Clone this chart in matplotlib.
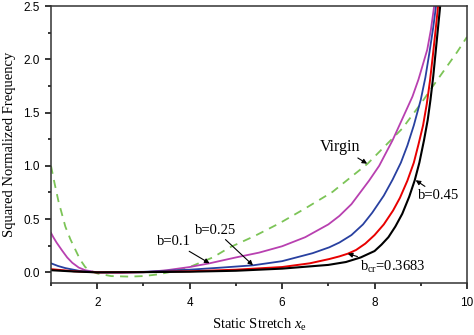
import matplotlib
matplotlib.use("Agg")
import matplotlib.pyplot as plt
from matplotlib.ticker import MultipleLocator

plt.rcParams['mathtext.fontset'] = 'custom'
plt.rcParams['mathtext.rm'] = 'Liberation Serif'
plt.rcParams['mathtext.it'] = 'Liberation Serif:italic'

# ---- data ----
virgin_x = [1.0, 1.08, 1.16, 1.31, 1.42, 1.53, 1.63, 1.74, 1.85, 2.0, 2.3, 2.7, 3.0, 3.3, 3.6, 4.0, 4.5, 4.87, 5.4, 5.94, 6.5, 7.09, 7.85, 8.6, 9.03, 9.25, 9.79, 10.0]
virgin_y = [1.0, 0.83, 0.67, 0.43, 0.31, 0.21, 0.12, 0.05, 0.015, -0.01, -0.035, -0.04, -0.035, -0.02, 0.005, 0.05, 0.14, 0.235, 0.34, 0.46, 0.60, 0.755, 1.02, 1.35, 1.60, 1.74, 2.07, 2.21]

b01_x = [1.0, 1.05, 1.12, 1.24, 1.35, 1.46, 1.6, 1.74, 2.0, 2.5, 3.0, 3.5, 4.0, 4.43, 5.0, 5.5, 6.0, 6.5, 7.0, 7.24, 7.5, 7.88, 8.1, 8.39, 8.6, 8.82, 8.95, 9.14, 9.22, 9.29]
b01_y = [0.37, 0.33, 0.28, 0.205, 0.14, 0.09, 0.045, 0.02, 0.0, -0.005, 0.0, 0.02, 0.05, 0.085, 0.14, 0.185, 0.245, 0.33, 0.45, 0.53, 0.64, 0.86, 1.0, 1.24, 1.44, 1.65, 1.81, 2.09, 2.28, 2.5]

b025_x = [1.0, 1.15, 1.31, 1.6, 2.0, 3.0, 4.0, 4.7, 5.37, 6.0, 6.66, 7.02, 7.24, 7.5, 7.75, 7.95, 8.2, 8.39, 8.57, 8.71, 8.85, 9.0, 9.1, 9.19, 9.27, 9.33]
b025_y = [0.085, 0.06, 0.04, 0.015, 0.0, 0.005, 0.025, 0.045, 0.066, 0.105, 0.18, 0.235, 0.28, 0.35, 0.45, 0.56, 0.72, 0.87, 1.03, 1.19, 1.38, 1.62, 1.83, 2.07, 2.3, 2.5]

bcr_x = [1.0, 1.5, 2.0, 3.0, 4.0, 5.0, 6.0, 6.6, 7.02, 7.24, 7.42, 7.6, 7.8, 8.0, 8.2, 8.4, 8.55, 8.71, 8.85, 8.95, 9.05, 9.13, 9.2, 9.26, 9.32, 9.375]
bcr_y = [0.03, 0.01, 0.0, 0.003, 0.01, 0.025, 0.05, 0.085, 0.125, 0.15, 0.175, 0.21, 0.27, 0.35, 0.45, 0.58, 0.7, 0.86, 1.03, 1.2, 1.38, 1.58, 1.8, 2.03, 2.27, 2.5]

b045_x = [1.0, 1.5, 2.0, 3.0, 4.0, 5.0, 6.0, 7.0, 7.38, 7.7, 8.0, 8.15, 8.3, 8.45, 8.6, 8.75, 8.87, 8.97, 9.07, 9.15, 9.21, 9.27, 9.32, 9.37, 9.42]
b045_y = [0.02, 0.008, 0.0, 0.002, 0.006, 0.015, 0.035, 0.07, 0.097, 0.14, 0.2, 0.26, 0.33, 0.43, 0.55, 0.71, 0.865, 1.03, 1.24, 1.43, 1.62, 1.84, 2.06, 2.28, 2.5]

x_ticks = [2, 4, 6, 8, 10]
x_tick_labels = ['2', '4', '6', '8', '10']
y_ticks = [0.0, 0.5, 1.0, 1.5, 2.0, 2.5]
y_tick_labels = ['0.0', '0.5', '1.0', '1.5', '2.0', '2.5']

fig = plt.figure(figsize=(4.74, 3.35), dpi=100)
ax = fig.add_axes([0.1076, 0.1552, 0.8776, 0.8268])

ax.plot(virgin_x, virgin_y, color='#7cc457', lw=1.3, ls=(0, (4.5, 3.5)))
ax.plot(b01_x, b01_y, color='#b840b0', lw=1.3)
ax.plot(b025_x, b025_y, color='#2840a0', lw=1.3)
ax.plot(bcr_x, bcr_y, color='#e80000', lw=1.4)
ax.plot(b045_x, b045_y, color='black', lw=1.5)

ax.set_xlim(1, 10)
ax.set_ylim(-0.1, 2.5)
ax.set_xticks(x_ticks)
ax.set_xticklabels(x_tick_labels)
ax.set_yticks(y_ticks)
ax.set_yticklabels(y_tick_labels)
ax.xaxis.set_minor_locator(MultipleLocator(1))
ax.yaxis.set_minor_locator(MultipleLocator(0.25))
ax.tick_params(which='major', direction='out', length=4, width=1.1, labelsize=8.5)
ax.tick_params(axis='x', which='major', pad=6)
ax.tick_params(axis='y', which='major', pad=4)
ax.tick_params(which='minor', direction='out', length=2.5, width=1.1)
ax.tick_params(top=False, right=False)
for lab in ax.get_xticklabels() + ax.get_yticklabels():
    lab.set_family('Liberation Sans')
for sp in ax.spines.values():
    sp.set_linewidth(1.1)
    sp.set_color('#333333')

ax.set_xlabel('Static Stretch $x_{\\mathrm{e}}$', family='Liberation Serif', fontsize=10.5, labelpad=6)
ax.set_ylabel('Squared Normalized Frequency', family='Liberation Serif', fontsize=10.5, labelpad=5)

ap = dict(arrowstyle='-|>', lw=0.8, color='black', mutation_scale=7, shrinkA=0, shrinkB=0)
tk = dict(family='Liberation Serif', fontsize=10.5, ha='center', va='center')
ax.annotate('Virgin', xy=(7.84, 1.02), xytext=(7.26, 1.175), arrowprops=ap,
            family='Liberation Serif', fontsize=11.5, ha='center', va='center')
ax.annotate('b=0.45', xy=(8.89, 0.865), xytext=(9.39, 0.72), arrowprops=ap, **tk)
ax.annotate('b$_{\\mathrm{cr}}$=0.3683', xy=(7.42, 0.175), xytext=(8.40, 0.05), arrowprops=ap, **tk)
ax.annotate('b=0.1', xy=(4.43, 0.085), xytext=(3.65, 0.285), arrowprops=ap, **tk)
ax.annotate('b=0.25', xy=(5.37, 0.066), xytext=(4.56, 0.395), arrowprops=ap, **tk)

fig.savefig('out.png', dpi=100)
